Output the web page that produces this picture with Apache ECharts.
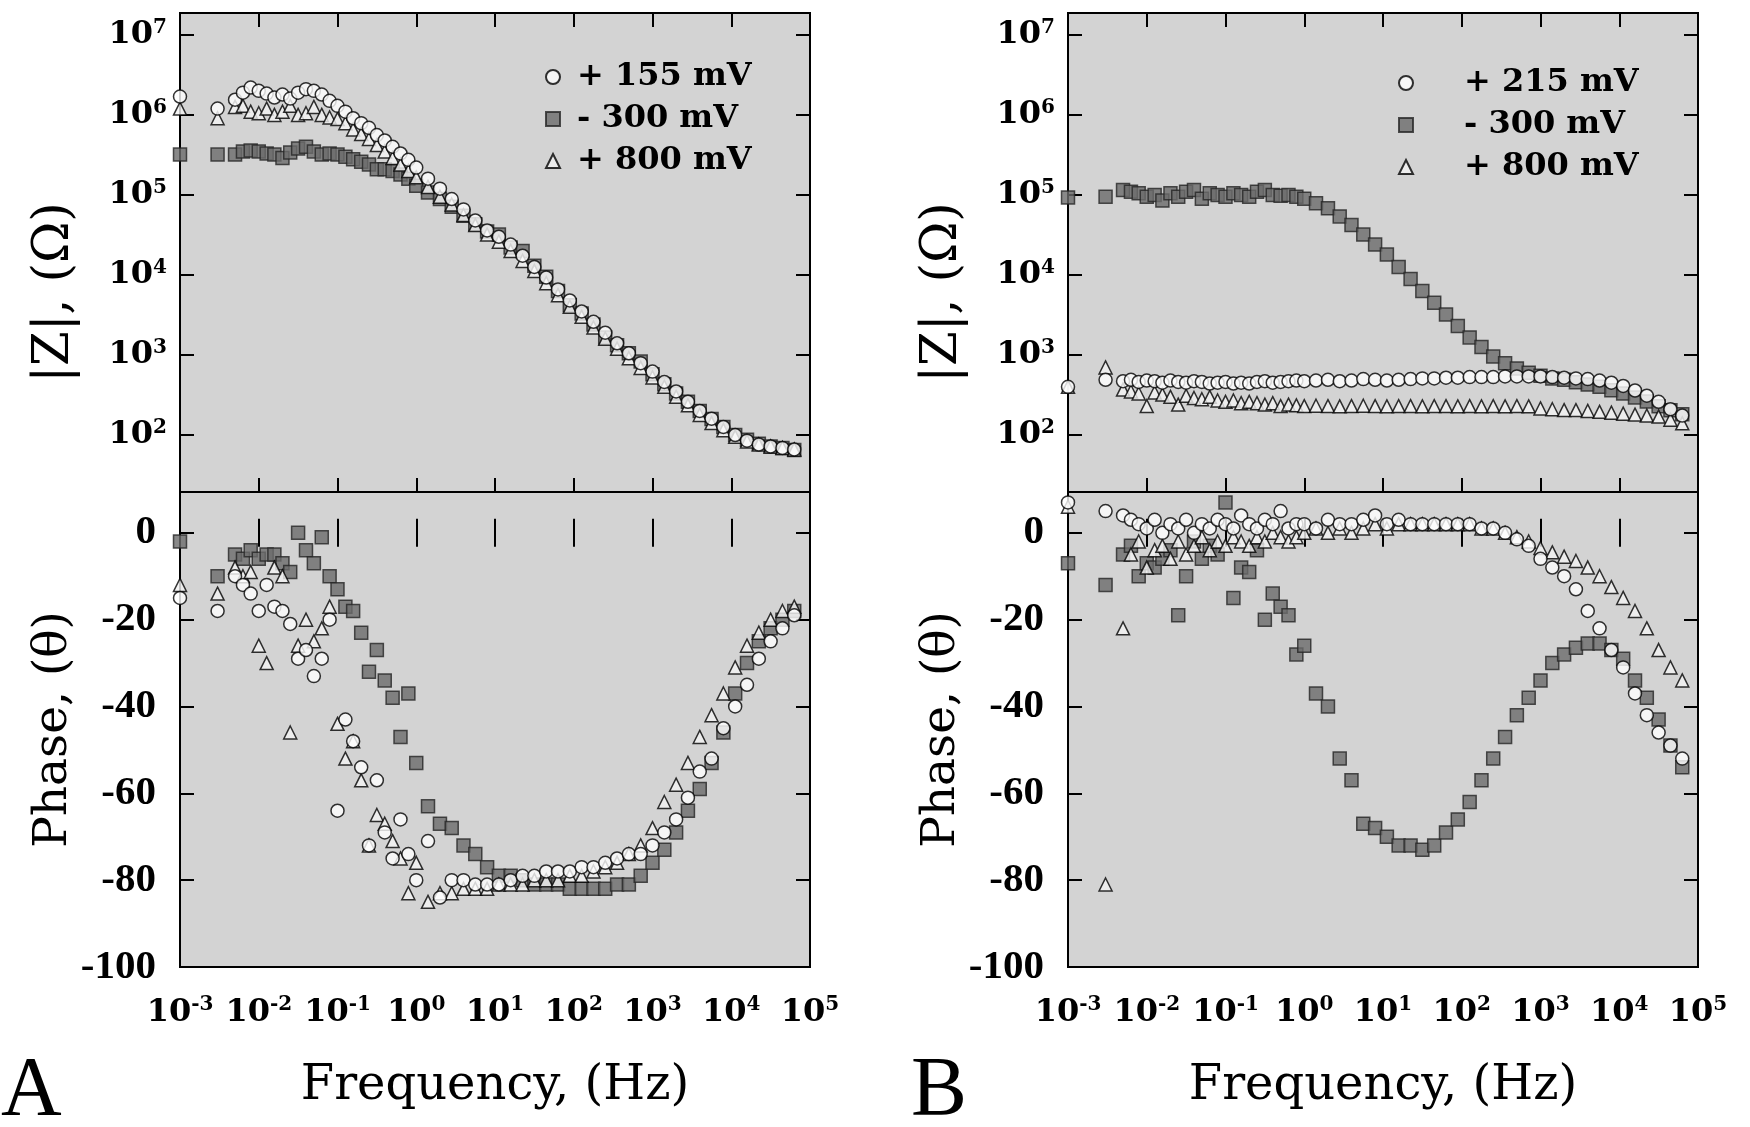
<!DOCTYPE html>
<html>
<head>
<meta charset="utf-8">
<script src="https://cdn.jsdelivr.net/npm/echarts@6/dist/echarts.min.js"></script>
<style>
  html, body { margin: 0; padding: 0; background: #fff; }
  #chart { width: 1750px; height: 1127px; }
</style>
</head>
<body>
<div id="chart"></div>
<script>
// measuring frequencies (Hz), shared by every series
var freq = [0.001, 0.003, 0.005, 0.0063, 0.0079, 0.01, 0.0126, 0.0158, 0.02, 0.0251,
  0.0316, 0.0398, 0.0501, 0.0631, 0.0794, 0.1, 0.126, 0.158, 0.2, 0.251,
  0.316, 0.398, 0.501, 0.631, 0.794, 1, 1.41, 2, 2.82, 3.98,
  5.62, 7.94, 11.2, 15.8, 22.4, 31.6, 44.7, 63.1, 89.1, 126,
  178, 251, 355, 501, 708, 1000, 1413, 1995, 2818, 3981,
  5623, 7943, 11220, 15850, 22390, 31620, 44670, 63100];

// panel A, |Z| (ohm)
var zA155 = [1.7e6, 1.2e6, 1.55e6, 1.9e6, 2.2e6, 2.0e6, 1.85e6, 1.65e6, 1.8e6, 1.6e6,
  1.9e6, 2.1e6, 2.0e6, 1.8e6, 1.5e6, 1.3e6, 1.1e6, 9.1e5, 7.9e5, 6.9e5,
  5.6e5, 4.8e5, 4.0e5, 3.3e5, 2.75e5, 2.2e5, 1.6e5, 1.2e5, 8.9e4, 6.6e4,
  4.8e4, 3.6e4, 3.0e4, 2.4e4, 1.74e4, 1.26e4, 9.3e3, 6.6e3, 4.8e3, 3.5e3,
  2.6e3, 1.9e3, 1.4e3, 1.05e3, 790, 620, 460, 350, 260, 200,
  160, 126, 100, 85, 76, 72, 69, 66];
var zA300 = [3.2e5, 3.2e5, 3.2e5, 3.5e5, 3.6e5, 3.5e5, 3.3e5, 3.2e5, 2.9e5, 3.4e5,
  3.8e5, 4.0e5, 3.5e5, 3.2e5, 3.3e5, 3.2e5, 3.0e5, 2.8e5, 2.6e5, 2.4e5,
  2.1e5, 2.1e5, 2.0e5, 1.8e5, 1.6e5, 1.3e5, 1.07e5, 8.9e4, 7.1e4, 5.5e4,
  4.3e4, 3.5e4, 3.2e4, 2.2e4, 2.0e4, 1.3e4, 9.5e3, 6.3e3, 4.2e3, 3.3e3,
  2.4e3, 1.66e3, 1.32e3, 1.05e3, 830, 575, 430, 330, 260, 200,
  158, 126, 100, 87, 78, 72, 69, 65];
var zA800 = [1.2e6, 9.1e5, 1.26e6, 1.3e6, 1.1e6, 1.05e6, 1.2e6, 1.0e6, 1.1e6, 1.3e6,
  1.0e6, 1.05e6, 1.26e6, 1.0e6, 9.3e5, 8.9e5, 7.9e5, 6.6e5, 5.8e5, 5.0e5,
  4.2e5, 3.5e5, 2.9e5, 2.4e5, 2.0e5, 1.66e5, 1.26e5, 9.5e4, 7.6e4, 5.6e4,
  4.2e4, 3.2e4, 2.6e4, 2.0e4, 1.5e4, 1.12e4, 7.9e3, 5.6e3, 4.0e3, 3.0e3,
  2.2e3, 1.6e3, 1.2e3, 910, 690, 525, 400, 300, 235, 178,
  141, 115, 95, 83, 76, 72, 69, 66];

// panel A, phase (deg)
var pA155 = [-15, -18, -10, -12, -14, -18, -12, -17, -18, -21,
  -29, -27, -33, -29, -20, -64, -43, -48, -54, -72,
  -57, -69, -75, -66, -74, -80, -71, -84, -80, -80,
  -81, -81, -81, -80, -79, -79, -78, -78, -78, -77,
  -77, -76, -75, -74, -74, -72, -69, -66, -61, -55,
  -52, -45, -40, -35, -29, -25, -22, -19];
var pA300 = [-2, -10, -5, -6, -4, -6, -5, -5, -7, -9,
  0, -4, -7, -1, -10, -13, -17, -18, -23, -32,
  -27, -34, -38, -47, -37, -53, -63, -67, -68, -72,
  -74, -77, -79, -79, -80, -81, -81, -81, -82, -82,
  -82, -82, -81, -81, -79, -76, -73, -69, -64, -59,
  -53, -46, -37, -30, -25, -22, -20, -18];
var pA800 = [-12, -14, -8, -10, -9, -26, -30, -8, -10, -46,
  -26, -20, -25, -22, -17, -44, -52, -48, -57, -72,
  -65, -67, -71, -75, -83, -76, -85, -83, -83, -82,
  -82, -82, -81, -81, -81, -80, -80, -80, -79, -79,
  -78, -77, -76, -74, -72, -68, -62, -58, -53, -47,
  -42, -37, -31, -26, -23, -20, -18, -17];

// panel B, |Z| (ohm)
var zB215 = [400, 490, 470, 490, 460, 480, 470, 450, 480, 460,
  450, 470, 460, 440, 450, 460, 440, 450, 440, 460,
  470, 450, 460, 470, 480, 470, 480, 490, 470, 480,
  500, 490, 480, 490, 500, 510, 510, 520, 520, 530,
  530, 530, 540, 540, 540, 540, 530, 520, 510, 500,
  480, 450, 410, 360, 310, 260, 210, 175];
var zB300 = [9.3e4, 9.5e4, 1.15e5, 1.1e5, 1.05e5, 9.5e4, 1.0e5, 8.5e4, 1.05e5, 9.5e4,
  1.1e5, 1.15e5, 9.0e4, 1.05e5, 1.0e5, 9.5e4, 1.05e5, 1.0e5, 9.5e4, 1.1e5,
  1.15e5, 1.0e5, 9.8e4, 1.0e5, 9.5e4, 9.0e4, 7.9e4, 6.8e4, 5.4e4, 4.2e4,
  3.2e4, 2.4e4, 1.8e4, 1.26e4, 8.9e3, 6.3e3, 4.5e3, 3.2e3, 2.3e3, 1.66e3,
  1.26e3, 955, 790, 680, 600, 550, 510, 490, 457, 427,
  400, 363, 330, 295, 263, 229, 204, 182];
var zB800 = [400, 700, 370, 350, 330, 230, 340, 320, 300, 240,
  310, 290, 280, 300, 270, 260, 270, 250, 260, 250,
  240, 250, 230, 240, 235, 230, 232, 230, 228, 230,
  232, 230, 228, 230, 230, 228, 230, 230, 228, 230,
  228, 230, 228, 230, 228, 215, 210, 205, 205, 200,
  195, 190, 185, 180, 175, 170, 155, 140];

// panel B, phase (deg)
var pB215 = [7, 5, 4, 3, 2, 1, 3, 0, 2, 1,
  3, 0, 2, 1, 3, 2, 1, 4, 2, 1,
  3, 2, 5, 1, 2, 2, 1, 3, 2, 2,
  3, 4, 2, 3, 2, 2, 2, 2, 2, 2,
  1, 1, 0, -1.5, -3, -6, -8, -10, -13, -18,
  -22, -27, -31, -37, -42, -46, -49, -52];
var pB300 = [-7, -12, -5, -3, -10, -7, -8, -6, -4, -19,
  -10, -2, -6, -3, -5, 7, -15, -8, -9, -4,
  -20, -14, -17, -19, -28, -26, -37, -40, -52, -57,
  -67, -68, -70, -72, -72, -73, -72, -69, -66, -62,
  -57, -52, -47, -42, -38, -34, -30, -28, -26.5, -25.5,
  -25.5, -27, -29, -34, -38, -43, -49, -54];
var pB800 = [6, -81, -22, -5, -2, -8, -4, -3, -6, -2,
  -5, -3, -1, -4, -2, -3, -1, -2, -3, -1,
  -2, 0, -1, -2, -1, 0, 1, 0, 1, 0,
  1, 2, 1, 2, 2, 2, 2, 2, 2, 2,
  1, 1, 0, -1, -2, -3.5, -4.5, -5.5, -6.5, -8,
  -10, -12.5, -15, -18, -22, -27, -31, -34];

var freqTicks = [1e-3, 1e-2, 1e-1, 1, 10, 100, 1e3, 1e4, 1e5];
var zTicks = [1e2, 1e3, 1e4, 1e5, 1e6, 1e7];
var phaseTicks = [-100, -80, -60, -40, -20, 0];

var chart = echarts.init(document.getElementById('chart'));

function pairs(vals) {
  return freq.map(function (f, i) { return [f, vals[i]]; });
}

function powLabel(v) {
  var e = Math.round(Math.log(v) / Math.LN10);
  return '{b|10}{s|' + e + '}';
}

var powRich = {
  b: { fontFamily: 'DejaVu Serif', fontWeight: 'bold', fontSize: 32, color: '#000' },
  s: { fontFamily: 'DejaVu Serif', fontWeight: 'bold', fontSize: 20, color: '#000', padding: [0, 0, 15, 0] }
};

var tickStyle = { show: true, inside: true, length: 14, lineStyle: { color: '#000', width: 2 } };

function freqAxis(grid, pos, labels) {
  var ax = {
    type: 'log', gridIndex: grid, position: pos, min: 1e-3, max: 1e5,
    axisLine: { show: false },
    splitLine: { show: false },
    axisTick: Object.assign({ customValues: freqTicks }, tickStyle),
    axisLabel: { show: false }
  };
  if (labels) {
    ax.axisLabel = { show: true, customValues: freqTicks, margin: 28, formatter: powLabel, rich: powRich };
    ax.name = 'Frequency, (Hz)';
    ax.nameLocation = 'middle';
    ax.nameGap = 96;
    ax.nameTextStyle = { fontFamily: 'DejaVu Serif', fontSize: 48, color: '#000' };
  }
  return ax;
}

function zAxis(grid, pos, labels) {
  var ax = {
    type: 'log', gridIndex: grid, position: pos, min: 19.4, max: 1.88e7,
    axisLine: { show: false },
    splitLine: { show: false },
    axisTick: Object.assign({ customValues: zTicks }, tickStyle),
    axisLabel: { show: false }
  };
  if (labels) {
    ax.axisLabel = { show: true, customValues: zTicks, margin: 13, formatter: powLabel, rich: powRich };
    ax.name = '|Z|, (\u03a9)';
    ax.nameLocation = 'middle';
    ax.nameRotate = 90;
    ax.nameGap = 100;
    ax.nameTextStyle = { fontFamily: 'DejaVu Serif', fontSize: 50, color: '#000', padding: [0, 80, 0, 0] };
  }
  return ax;
}

function phaseAxis(grid, pos, labels) {
  var ax = {
    type: 'value', gridIndex: grid, position: pos, min: -100, max: 9.4,
    axisLine: { show: false },
    splitLine: { show: false },
    axisTick: Object.assign({ customValues: phaseTicks }, tickStyle),
    axisLabel: { show: false }
  };
  if (labels) {
    ax.axisLabel = {
      show: true, customValues: phaseTicks, margin: 24,
      fontFamily: 'Liberation Serif', fontWeight: 'bold', fontSize: 41, color: '#000'
    };
    ax.name = 'Phase, (\u03b8)';
    ax.nameLocation = 'middle';
    ax.nameRotate = 90;
    ax.nameGap = 100;
    ax.nameTextStyle = { fontFamily: 'DejaVu Serif', fontSize: 47, color: '#000' };
  }
  return ax;
}

var circleStyle = { color: '#ffffff', borderColor: '#000', borderWidth: 1.5 };
var squareStyle = { color: '#6b6b6b', borderColor: '#262626', borderWidth: 1.5 };
var triStyle = { color: '#f4f4f4', borderColor: '#000', borderWidth: 1.5 };

function sc(name, grid, sym, style, vals) {
  return {
    name: name, type: 'scatter', xAxisIndex: grid * 2, yAxisIndex: grid * 2,
    symbol: sym, symbolSize: 13, itemStyle: style, data: pairs(vals)
  };
}

var gridBox = { show: true, backgroundColor: '#d3d3d3', borderColor: '#000', borderWidth: 2 };

function legendText(gap) {
  return { fontFamily: 'DejaVu Serif', fontWeight: 'bold', fontSize: 32, color: '#000', padding: [0, 0, 0, gap] };
}

var option = {
  animation: false,
  backgroundColor: '#ffffff',
  title: [
    { text: 'A', left: -4, top: 1046, textStyle: { fontFamily: 'Liberation Serif', fontWeight: 'normal', fontSize: 84, color: '#000' } },
    { text: 'B', left: 906, top: 1046, textStyle: { fontFamily: 'Liberation Serif', fontWeight: 'normal', fontSize: 84, color: '#000' } }
  ],
  legend: [
    {
      data: ['+ 155 mV', '- 300 mV', '+ 800 mV'], orient: 'vertical', left: 540, top: 56,
      itemWidth: 14, itemHeight: 14, itemGap: 10, textStyle: legendText(12)
    },
    {
      data: ['+ 215 mV', '- 300 mV', '+ 800 mV'], orient: 'vertical', left: 1393, top: 62,
      itemWidth: 14, itemHeight: 14, itemGap: 10, textStyle: legendText(46)
    }
  ],
  grid: [
    Object.assign({ left: 180, top: 13, width: 630, height: 479 }, gridBox),
    Object.assign({ left: 180, top: 492, width: 630, height: 475 }, gridBox),
    Object.assign({ left: 1068, top: 13, width: 630, height: 479 }, gridBox),
    Object.assign({ left: 1068, top: 492, width: 630, height: 475 }, gridBox)
  ],
  xAxis: [
    freqAxis(0, 'bottom', false), freqAxis(0, 'top', false),
    freqAxis(1, 'bottom', true), freqAxis(1, 'top', false),
    freqAxis(2, 'bottom', false), freqAxis(2, 'top', false),
    freqAxis(3, 'bottom', true), freqAxis(3, 'top', false)
  ],
  yAxis: [
    zAxis(0, 'left', true), zAxis(0, 'right', false),
    phaseAxis(1, 'left', true), phaseAxis(1, 'right', false),
    zAxis(2, 'left', true), zAxis(2, 'right', false),
    phaseAxis(3, 'left', true), phaseAxis(3, 'right', false)
  ],
  series: [
    sc('- 300 mV', 0, 'rect', squareStyle, zA300),
    sc('+ 800 mV', 0, 'triangle', triStyle, zA800),
    sc('+ 155 mV', 0, 'circle', circleStyle, zA155),
    sc('- 300 mV', 1, 'rect', squareStyle, pA300),
    sc('+ 800 mV', 1, 'triangle', triStyle, pA800),
    sc('+ 155 mV', 1, 'circle', circleStyle, pA155),
    sc('- 300 mV', 2, 'rect', squareStyle, zB300),
    sc('+ 800 mV', 2, 'triangle', triStyle, zB800),
    sc('+ 215 mV', 2, 'circle', circleStyle, zB215),
    sc('- 300 mV', 3, 'rect', squareStyle, pB300),
    sc('+ 800 mV', 3, 'triangle', triStyle, pB800),
    sc('+ 215 mV', 3, 'circle', circleStyle, pB215)
  ]
};

chart.setOption(option);
</script>
</body>
</html>
